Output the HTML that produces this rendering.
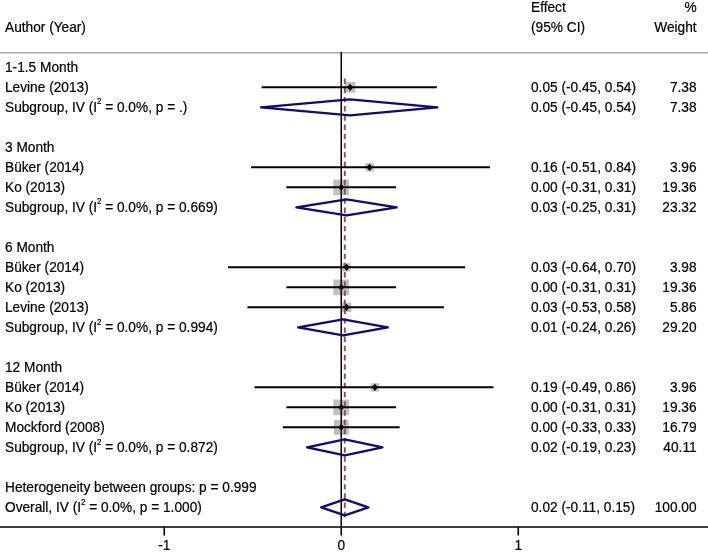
<!DOCTYPE html>
<html><head><meta charset="utf-8"><style>html,body{margin:0;padding:0;background:#fff;width:708px;height:554px;overflow:hidden}svg{display:block}</style></head>
<body><svg width="708" height="554" viewBox="0 0 708 554">
<rect width="708" height="554" fill="#fff"/>
<line x1="0" y1="52.7" x2="708" y2="52.7" stroke="#aaaaaa" stroke-width="1.4"/>
<rect x="344.81" y="82.06" width="10.59" height="10.59" fill="#c0c0c0"/><rect x="365.39" y="163.17" width="8.37" height="8.37" fill="#c0c0c0"/><rect x="333.39" y="179.49" width="15.72" height="15.72" fill="#c0c0c0"/><rect x="342.37" y="263.16" width="8.38" height="8.38" fill="#c0c0c0"/><rect x="333.39" y="279.49" width="15.72" height="15.72" fill="#c0c0c0"/><rect x="341.72" y="302.51" width="9.68" height="9.68" fill="#c0c0c0"/><rect x="370.70" y="383.17" width="8.37" height="8.37" fill="#c0c0c0"/><rect x="333.39" y="399.49" width="15.72" height="15.72" fill="#c0c0c0"/><rect x="333.85" y="419.95" width="14.80" height="14.80" fill="#c0c0c0"/>
<line x1="341.25" y1="52" x2="341.25" y2="527" stroke="#000" stroke-width="1.5"/>
<line x1="344.79" y1="78.45" x2="344.79" y2="517.5" stroke="#9c4852" stroke-width="1.9" stroke-dasharray="5.4 3.82"/>
<line x1="261.60" y1="87.35" x2="436.83" y2="87.35" stroke="#000" stroke-width="2"/><polygon points="347.10,87.35 350.10,83.64999999999999 353.10,87.35 350.10,91.05" fill="#000"/><line x1="250.98" y1="167.35" x2="489.93" y2="167.35" stroke="#000" stroke-width="2"/><polygon points="366.57,167.35 369.57,163.65 372.57,167.35 369.57,171.04999999999998" fill="#000"/><line x1="286.38" y1="187.35" x2="396.12" y2="187.35" stroke="#000" stroke-width="2"/><polygon points="338.25,187.35 341.25,183.65 344.25,187.35 341.25,191.04999999999998" fill="#000"/><line x1="227.97" y1="267.35" x2="465.15" y2="267.35" stroke="#000" stroke-width="2"/><polygon points="343.56,267.35 346.56,263.65000000000003 349.56,267.35 346.56,271.05" fill="#000"/><line x1="286.38" y1="287.35" x2="396.12" y2="287.35" stroke="#000" stroke-width="2"/><polygon points="338.25,287.35 341.25,283.65000000000003 344.25,287.35 341.25,291.05" fill="#000"/><line x1="247.44" y1="307.35" x2="443.91" y2="307.35" stroke="#000" stroke-width="2"/><polygon points="343.56,307.35 346.56,303.65000000000003 349.56,307.35 346.56,311.05" fill="#000"/><line x1="254.52" y1="387.35" x2="493.47" y2="387.35" stroke="#000" stroke-width="2"/><polygon points="371.88,387.35 374.88,383.65000000000003 377.88,387.35 374.88,391.05" fill="#000"/><line x1="286.38" y1="407.35" x2="396.12" y2="407.35" stroke="#000" stroke-width="2"/><polygon points="338.25,407.35 341.25,403.65000000000003 344.25,407.35 341.25,411.05" fill="#000"/><line x1="282.84" y1="427.35" x2="399.66" y2="427.35" stroke="#000" stroke-width="2"/><polygon points="338.25,427.35 341.25,423.65000000000003 344.25,427.35 341.25,431.05" fill="#000"/>
<polygon points="261.00,107.35 350.10,99.35 437.43,107.35 350.10,115.35" fill="none" stroke="#0b0b7e" stroke-width="2.3" stroke-linejoin="round"/><polygon points="296.40,207.35 346.56,199.35 396.72,207.35 346.56,215.35" fill="none" stroke="#0b0b7e" stroke-width="2.3" stroke-linejoin="round"/><polygon points="298.17,327.35 343.02,319.35 387.87,327.35 343.02,335.35" fill="none" stroke="#0b0b7e" stroke-width="2.3" stroke-linejoin="round"/><polygon points="307.02,447.35 344.79,439.35 382.56,447.35 344.79,455.35" fill="none" stroke="#0b0b7e" stroke-width="2.3" stroke-linejoin="round"/><polygon points="321.18,507.35 344.79,499.35 368.40,507.35 344.79,515.35" fill="none" stroke="#0b0b7e" stroke-width="2.3" stroke-linejoin="round"/>
<line x1="0" y1="527" x2="708" y2="527" stroke="#000" stroke-width="1.6"/>
<line x1="164.25" y1="527" x2="164.25" y2="535.5" stroke="#000" stroke-width="1.6"/><line x1="341.25" y1="527" x2="341.25" y2="535.5" stroke="#000" stroke-width="1.6"/><line x1="518.25" y1="527" x2="518.25" y2="535.5" stroke="#000" stroke-width="1.6"/>
<g font-family="'Liberation Sans', Arial, Helvetica, sans-serif" font-size="13.7" fill="#000" stroke="#000" stroke-width="0.2">
<text transform="translate(5.00,31.90) scale(1,1.06)">Author (Year)</text>
<text transform="translate(531.00,11.60) scale(1,1.06)">Effect</text>
<text transform="translate(531.00,31.60) scale(1,1.06)">(95% CI)</text>
<text transform="translate(696.60,11.60) scale(1,1.06)" text-anchor="end">%</text>
<text transform="translate(696.60,31.60) scale(1,1.06)" text-anchor="end">Weight</text>
<text transform="translate(5.00,71.70) scale(1,1.06)">1-1.5 Month</text>
<text transform="translate(5.00,91.71) scale(1,1.06)">Levine (2013)</text>
<text transform="translate(531.00,91.71) scale(1,1.06)">0.05 (-0.45, 0.54)</text>
<text transform="translate(696.60,91.71) scale(1,1.06)" text-anchor="end">7.38</text>
<text transform="translate(5.00,111.72) scale(1,1.06)">Subgroup, IV (I<tspan font-size="8" dy="-6.9">2</tspan><tspan dx="-0.2" dy="6.9"> = 0.0%, p = .)</tspan></text>
<text transform="translate(531.00,111.72) scale(1,1.06)">0.05 (-0.45, 0.54)</text>
<text transform="translate(696.60,111.72) scale(1,1.06)" text-anchor="end">7.38</text>
<text transform="translate(5.00,151.74) scale(1,1.06)">3 Month</text>
<text transform="translate(5.00,171.75) scale(1,1.06)">Büker (2014)</text>
<text transform="translate(531.00,171.75) scale(1,1.06)">0.16 (-0.51, 0.84)</text>
<text transform="translate(696.60,171.75) scale(1,1.06)" text-anchor="end">3.96</text>
<text transform="translate(5.00,191.76) scale(1,1.06)">Ko (2013)</text>
<text transform="translate(531.00,191.76) scale(1,1.06)">0.00 (-0.31, 0.31)</text>
<text transform="translate(696.60,191.76) scale(1,1.06)" text-anchor="end">19.36</text>
<text transform="translate(5.00,211.77) scale(1,1.06)">Subgroup, IV (I<tspan font-size="8" dy="-6.9">2</tspan><tspan dx="-0.2" dy="6.9"> = 0.0%, p = 0.669)</tspan></text>
<text transform="translate(531.00,211.77) scale(1,1.06)">0.03 (-0.25, 0.31)</text>
<text transform="translate(696.60,211.77) scale(1,1.06)" text-anchor="end">23.32</text>
<text transform="translate(5.00,251.79) scale(1,1.06)">6 Month</text>
<text transform="translate(5.00,271.80) scale(1,1.06)">Büker (2014)</text>
<text transform="translate(531.00,271.80) scale(1,1.06)">0.03 (-0.64, 0.70)</text>
<text transform="translate(696.60,271.80) scale(1,1.06)" text-anchor="end">3.98</text>
<text transform="translate(5.00,291.81) scale(1,1.06)">Ko (2013)</text>
<text transform="translate(531.00,291.81) scale(1,1.06)">0.00 (-0.31, 0.31)</text>
<text transform="translate(696.60,291.81) scale(1,1.06)" text-anchor="end">19.36</text>
<text transform="translate(5.00,311.82) scale(1,1.06)">Levine (2013)</text>
<text transform="translate(531.00,311.82) scale(1,1.06)">0.03 (-0.53, 0.58)</text>
<text transform="translate(696.60,311.82) scale(1,1.06)" text-anchor="end">5.86</text>
<text transform="translate(5.00,331.83) scale(1,1.06)">Subgroup, IV (I<tspan font-size="8" dy="-6.9">2</tspan><tspan dx="-0.2" dy="6.9"> = 0.0%, p = 0.994)</tspan></text>
<text transform="translate(531.00,331.83) scale(1,1.06)">0.01 (-0.24, 0.26)</text>
<text transform="translate(696.60,331.83) scale(1,1.06)" text-anchor="end">29.20</text>
<text transform="translate(5.00,371.85) scale(1,1.06)">12 Month</text>
<text transform="translate(5.00,391.86) scale(1,1.06)">Büker (2014)</text>
<text transform="translate(531.00,391.86) scale(1,1.06)">0.19 (-0.49, 0.86)</text>
<text transform="translate(696.60,391.86) scale(1,1.06)" text-anchor="end">3.96</text>
<text transform="translate(5.00,411.87) scale(1,1.06)">Ko (2013)</text>
<text transform="translate(531.00,411.87) scale(1,1.06)">0.00 (-0.31, 0.31)</text>
<text transform="translate(696.60,411.87) scale(1,1.06)" text-anchor="end">19.36</text>
<text transform="translate(5.00,431.88) scale(1,1.06)">Mockford (2008)</text>
<text transform="translate(531.00,431.88) scale(1,1.06)">0.00 (-0.33, 0.33)</text>
<text transform="translate(696.60,431.88) scale(1,1.06)" text-anchor="end">16.79</text>
<text transform="translate(5.00,451.89) scale(1,1.06)">Subgroup, IV (I<tspan font-size="8" dy="-6.9">2</tspan><tspan dx="-0.2" dy="6.9"> = 0.0%, p = 0.872)</tspan></text>
<text transform="translate(531.00,451.89) scale(1,1.06)">0.02 (-0.19, 0.23)</text>
<text transform="translate(696.60,451.89) scale(1,1.06)" text-anchor="end">40.11</text>
<text transform="translate(5.00,491.91) scale(1,1.06)">Heterogeneity between groups: p = 0.999</text>
<text transform="translate(5.00,511.92) scale(1,1.06)">Overall, IV (I<tspan font-size="8" dy="-6.9">2</tspan><tspan dx="-0.2" dy="6.9"> = 0.0%, p = 1.000)</tspan></text>
<text transform="translate(531.00,511.92) scale(1,1.06)">0.02 (-0.11, 0.15)</text>
<text transform="translate(696.60,511.92) scale(1,1.06)" text-anchor="end">100.00</text>
<text transform="translate(164.25,549.50) scale(1,1.06)" text-anchor="middle">-1</text>
<text transform="translate(341.25,549.50) scale(1,1.06)" text-anchor="middle">0</text>
<text transform="translate(518.25,549.50) scale(1,1.06)" text-anchor="middle">1</text>
</g>
</svg></body></html>
